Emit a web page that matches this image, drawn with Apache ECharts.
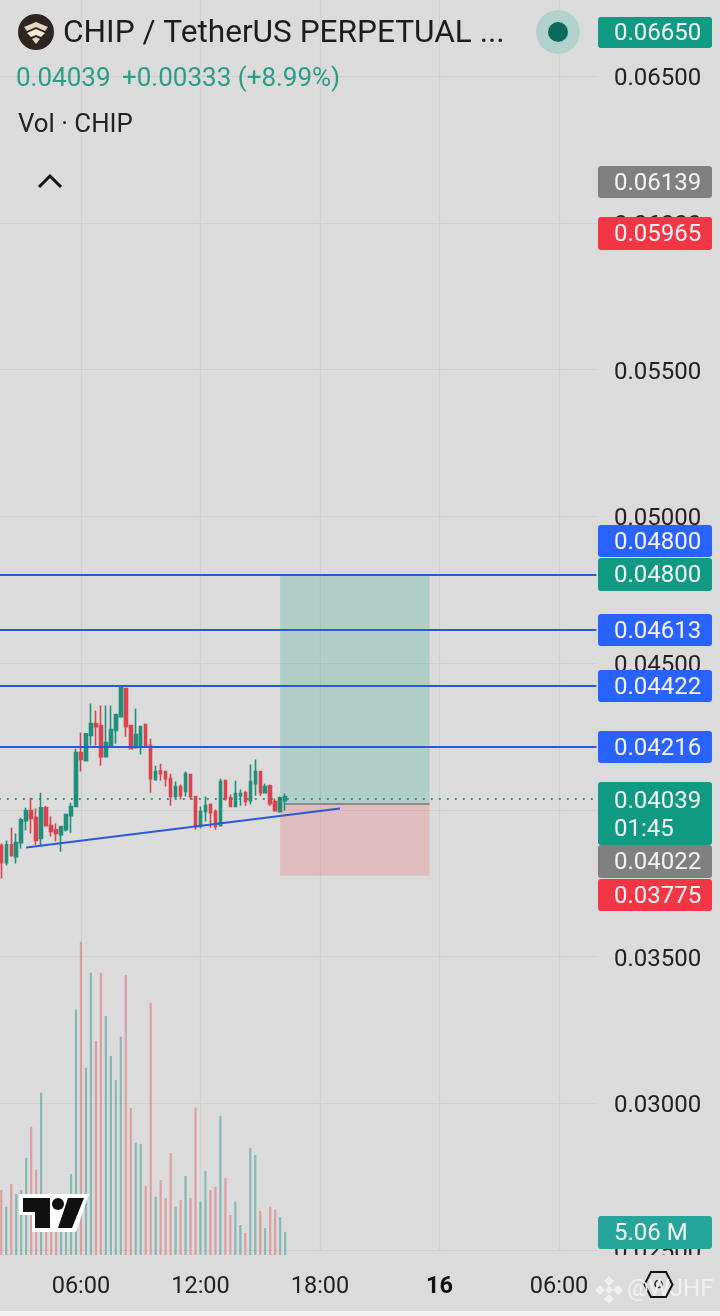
<!DOCTYPE html>
<html><head><meta charset="utf-8">
<style>html,body{margin:0;padding:0;background:#dbdbdb}#c{width:720px;height:1316px}</style>
<script src="https://cdn.jsdelivr.net/npm/echarts@6/dist/echarts.min.js"></script>
</head><body><div id="c"></div>
<script>
const opens=[0.03878,0.03820,0.03881,0.03840,0.03888,0.03963,0.03997,0.03973,0.03902,0.04007,0.03946,0.03932,0.03915,0.03932,0.03980,0.04011,0.04195,0.04167,0.04253,0.04294,0.04287,0.04181,0.04219,0.04270,0.04317,0.04413,0.04287,0.04212,0.04219,0.04290,0.04219,0.04103,0.04133,0.04130,0.04106,0.04045,0.04079,0.04062,0.04120,0.04045,0.03943,0.03994,0.04018,0.03994,0.03946,0.04099,0.04041,0.04011,0.04048,0.04058,0.04031,0.04089,0.04130,0.04058,0.04082,0.04028,0.03994,0.04031];
const closes=[0.03820,0.03881,0.03844,0.03888,0.03966,0.03997,0.03970,0.03895,0.04007,0.03946,0.03926,0.03919,0.03943,0.03984,0.04011,0.04195,0.04171,0.04259,0.04294,0.04283,0.04181,0.04229,0.04273,0.04324,0.04420,0.04283,0.04208,0.04256,0.04283,0.04219,0.04106,0.04130,0.04123,0.04106,0.04045,0.04079,0.04048,0.04123,0.04045,0.03943,0.03994,0.04014,0.03990,0.03943,0.04096,0.04038,0.04011,0.04055,0.04055,0.04028,0.04096,0.04130,0.04058,0.04079,0.04021,0.03997,0.04041,0.04045];
const lows=[0.03766,0.03810,0.03840,0.03817,0.03868,0.03929,0.03919,0.03881,0.03878,0.03943,0.03909,0.03892,0.03857,0.03926,0.03922,0.04011,0.04130,0.04167,0.04219,0.04219,0.04150,0.04181,0.04219,0.04225,0.04314,0.04249,0.04205,0.04208,0.04188,0.04215,0.04058,0.04099,0.04099,0.04079,0.04014,0.04038,0.04035,0.04045,0.04035,0.03932,0.03936,0.03960,0.03939,0.03932,0.03943,0.04031,0.04011,0.04011,0.04014,0.04014,0.04018,0.04048,0.04048,0.04055,0.04014,0.03994,0.03990,0.03997];
const highs=[0.03885,0.03895,0.03939,0.03919,0.03973,0.04007,0.04041,0.04004,0.04058,0.04014,0.03977,0.03953,0.03943,0.03987,0.04024,0.04208,0.04263,0.04259,0.04362,0.04338,0.04355,0.04355,0.04355,0.04327,0.04423,0.04416,0.04287,0.04345,0.04287,0.04294,0.04242,0.04150,0.04157,0.04133,0.04123,0.04096,0.04086,0.04130,0.04123,0.04045,0.04011,0.04045,0.04021,0.04001,0.04106,0.04103,0.04052,0.04099,0.04069,0.04065,0.04154,0.04171,0.04130,0.04089,0.04086,0.04038,0.04045,0.04055];
const volumes=[14.3,10.6,15.6,13.4,14.3,21.4,28.2,18.8,35.7,6.2,7.0,6.2,5.5,7.0,17.8,54.0,68.9,41.2,62.1,47.1,62.1,52.6,43.8,38.5,48.0,61.6,32.4,24.7,24.4,15.2,55.5,12.8,16.5,12.5,22.4,10.6,12.1,17.4,12.6,32.4,11.7,18.5,14.3,15.0,30.6,16.9,8.8,11.7,6.6,4.9,23.5,22.0,9.7,5.9,10.6,10.0,8.3,5.06];
const levelLines=[0.04800,0.04613,0.04422,0.04216];
const lastPrice=0.04039, entryPrice=0.04022, targetPrice=0.04800, stopPrice=0.03775;
const trendStart=[5,0.03871], trendEnd=[68,0.04004];
const positionStartIdx=56, positionEndIdx=86, entryLineStartIdx=57;
const tickEvery=24, tickOffset=16;
const categories=[];
for(let i=0;i<120;i++){const m=(8+i)*15;const d=m>=1440?'16':'15';const mm=m%1440;
  categories.push(d+' '+String(Math.floor(mm/60)).padStart(2,'0')+':'+String(mm%60).padStart(2,'0'));}

const GREEN='#1f9079',RED='#d9444f',BLUE='#2b59d3',FONT='Roboto';
const badges=[
 ['0.06650',17,31,'#109a83'],['0.06139',166,32,'#808080'],['0.05965',217,33,'#f23645'],
 ['0.04800',525,32,'#2962ff'],['0.04800',558,33,'#109a83'],['0.04613',614,32,'#2962ff'],
 ['0.04422',670,32,'#2962ff'],['0.04216',731,32,'#2962ff'],['0.04022',845,33,'#808080'],
 ['0.03775',879,32,'#f23645'],['5.06 M',1216,33,'#26a69a']];
const g=[];
function txt(t,x,y,size,fill,extra){g.push({type:'text',z:101,style:Object.assign({text:t,x:x,y:y,fill:fill,font:size+'px '+FONT,textAlign:'left',textVerticalAlign:'middle'},extra||{})});}
function poly(points,fill,extra){g.push({type:'polygon',z:100,shape:{points},style:Object.assign({fill},extra||{})});}
function circ(cx,cy,r,fill,extra){g.push({type:'circle',z:100,shape:{cx,cy,r},style:Object.assign({fill},extra||{})});}
g.push({type:'rect',z:99,shape:{x:598,y:1255,width:122,height:20},style:{fill:'#dbdbdb'}});
badges.forEach(b=>{
  g.push({type:'rect',z:100,shape:{x:598,y:b[1],width:114,height:b[2],r:3},style:{fill:b[3]}});
  txt(b[0],614,b[1]+b[2]/2+1.5,24,'#f4f4f4');
});
g.push({type:'rect',z:100,shape:{x:598,y:782,width:114,height:63,r:3},style:{fill:'#109a83'}});
txt('0.04039',614,801.5,24,'#f4f4f4');txt('01:45',614,830,24,'#f4f4f4');
circ(36,32,18,'#2c2522');
poly([[36,22],[48,27],[45,31],[36,27],[27,31],[24,27]],'#e6d7c3');
poly([[27,33],[36,29],[45,33],[41,37],[36,35],[31,37]],'#f4ead9');
poly([[32,39],[36,37],[40,39],[36,44]],'#e6d7c3');
txt('CHIP / TetherUS PERPETUAL ...',63,34.5,31.6,'#1c1c1c');
circ(558,32,22,'#b3d1cc');circ(558,32,10,'#0b6b5a');
txt('0.04039',16,79,26,'#2a9d85');
txt('+0.00333 (+8.99%)',122,79,26,'#2a9d85');
txt('Vol · CHIP',18,126,25.8,'#222222');
g.push({type:'polyline',z:100,shape:{points:[[39,187],[50,176],[61,187]]},style:{stroke:'#111',lineWidth:3,fill:null}});
poly([[19,1194],[89,1194],[76,1232],[32,1232],[32,1215],[19,1215]],'#ffffff');
poly([[23,1198],[50,1198],[50,1228],[35,1228],[35,1212],[23,1212]],'#111111');
circ(58,1204,6,'#111111');
poly([[68,1198],[84,1198],[72,1228],[58,1228]],'#111111');
g.push({type:'rect',z:100,shape:{x:0,y:1311,width:720,height:5},style:{fill:'#f2f2f2'}});
const w='#f0f0f0';
[[609,1281,5],[600,1290,5],[618,1290,5],[609,1299,5]].forEach(d=>poly([[d[0],d[1]-d[2]],[d[0]+d[2],d[1]],[d[0],d[1]+d[2]],[d[0]-d[2],d[1]]],w));
poly([[609,1286],[613,1290],[609,1294],[605,1290]],w);
txt('@WJHF',627,1290,24,'#f0f0f0',{textStroke:'#b5b5b5',lineWidth:0.6});
poly([[651,1272],[666,1272],[672.5,1284.5],[666,1297],[651,1297],[644.5,1284.5]],'none',{stroke:'#111',lineWidth:2});
circ(658.5,1284,3.5,'none',{stroke:'#222',lineWidth:1.5});

const chart=echarts.init(document.getElementById('c'),null,{renderer:'canvas'});
const showTick=i=>(i-tickOffset)%tickEvery===0;
chart.setOption({
  animation:false,backgroundColor:'#dbdbdb',
  grid:[{left:-1.2,width:597.6,top:-70.75,height:1320.75,containLabel:false,outerBoundsMode:'none'},
        {left:-1.2,width:597.6,top:900,height:355,containLabel:false,outerBoundsMode:'none'}],
  xAxis:[{type:'category',gridIndex:0,data:categories,boundaryGap:true,
      axisLine:{show:false},axisTick:{show:false},
      splitLine:{show:true,alignWithLabel:true,interval:(i)=>showTick(i),lineStyle:{color:'#d0d0d0',width:1.2}},
      axisLabel:{interval:(i)=>showTick(i),margin:25,hideOverlap:false,color:'#222',fontFamily:FONT,fontSize:23.5,
        formatter:v=>v==='16 00:00'?'{b|16}':v.slice(3),rich:{b:{fontWeight:'bold',fontSize:23.5,color:'#111',fontFamily:FONT}}}},
    {type:'category',gridIndex:1,data:categories,show:false}],
  yAxis:[{type:'value',gridIndex:0,position:'right',min:0.025,max:0.07,interval:0.005,
      axisLine:{show:false},axisTick:{show:false},
      splitLine:{show:true,lineStyle:{color:'#cfcfcf',width:1.2}},
      axisLabel:{margin:17.6,color:'#222',fontFamily:FONT,fontSize:24,
        formatter:v=>v>=0.0699?'':'{a|'+v.toFixed(5)+'}',
        rich:{a:{padding:[6,0,0,0],color:'#222',fontFamily:FONT,fontSize:24}}}},
    {type:'value',gridIndex:1,min:0,max:78.1,show:false,splitLine:{show:false}}],
  series:[
   {type:'bar',name:'Vol',xAxisIndex:1,yAxisIndex:1,barWidth:2.2,z:2,
    data:volumes.map((v,i)=>({value:v,itemStyle:{color:closes[i]>=opens[i]?'rgba(20,135,118,0.42)':'rgba(222,60,70,0.38)'}}))},
   {type:'candlestick',name:'CHIP',xAxisIndex:0,yAxisIndex:0,barWidth:3,z:5,
    itemStyle:{color:GREEN,color0:RED,borderColor:GREEN,borderColor0:RED,borderWidth:1.6},
    data:opens.map((o,i)=>[o,closes[i],lows[i],highs[i]]),
    markArea:{silent:true,z:3,data:[
      [{coord:[positionStartIdx,targetPrice],itemStyle:{color:'rgba(8,153,129,0.2)'}},{coord:[positionEndIdx,entryPrice]}],
      [{coord:[positionStartIdx,entryPrice],itemStyle:{color:'rgba(242,54,69,0.18)'}},{coord:[positionEndIdx,stopPrice]}]
    ]},
    markLine:{silent:true,symbol:'none',precision:6,label:{show:false},animation:false,z:6,
      data:[...levelLines.map(v=>({yAxis:v,lineStyle:{color:BLUE,width:1.8,type:'solid'}})),
        {yAxis:lastPrice,lineStyle:{color:'#17806d',width:1.5,type:[2,6]}},
        [{coord:trendStart,lineStyle:{color:BLUE,width:2,type:'solid'}},{coord:trendEnd}],
        [{coord:[entryLineStartIdx,entryPrice],lineStyle:{color:'#8a8a8a',width:2,type:'solid'}},{coord:[positionEndIdx,entryPrice]}]
      ]}}
  ],
  graphic:{elements:g}
});
</script></body></html>
